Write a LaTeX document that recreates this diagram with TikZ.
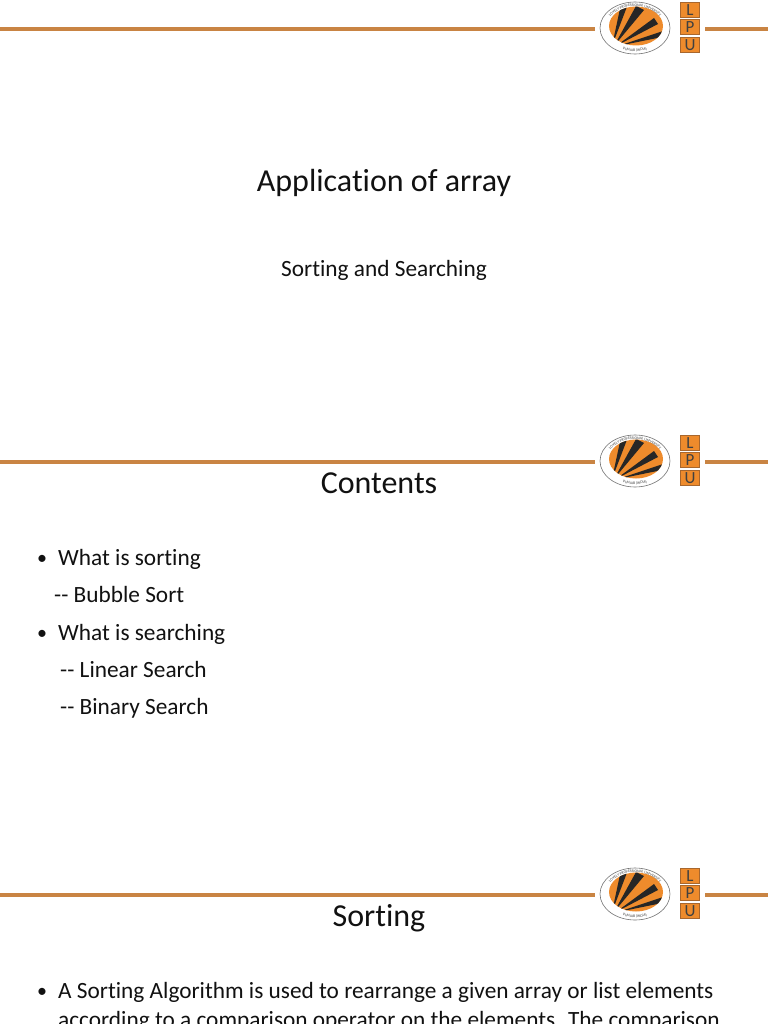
\documentclass[tikz,border=0pt]{standalone}
\usepackage{fontspec}
\setmainfont[Ligatures={NoCommon}]{Carlito}
\usetikzlibrary{decorations.text}
\definecolor{band}{HTML}{C98443}
\definecolor{lpuorange}{HTML}{EE8B2C}
\definecolor{lpuedge}{HTML}{A8672E}
\definecolor{inktext}{HTML}{111111}
\tikzset{
  bandline/.style={draw=band,line width=3.6pt},
  ray/.style={fill=black!85,draw=none},
  lpubox/.style={draw=lpuedge,line width=1pt,fill=lpuorange,minimum width=19pt,minimum height=15pt,inner sep=0pt,text=black!75,font=\fontsize{17}{17}\selectfont},
  title/.style={anchor=base,inner sep=0pt,text=inktext,font=\fontsize{32}{32}\selectfont},
  body/.style={anchor=base west,inner sep=0pt,text=inktext,font=\fontsize{23.3}{23.3}\selectfont},
  subtitle/.style={anchor=base,inner sep=0pt,text=inktext,font=\fontsize{23.3}{23.3}\selectfont},
  bulletmark/.style={anchor=base,inner sep=0pt,text=inktext,font=\fontsize{20}{20}\selectfont},
}
\newcommand{\lpuband}[2]{%
  \begin{scope}[shift={(0,#1)}]
    \coordinate (#2a) at (0,29); \coordinate (#2b) at (595,29);
    \coordinate (#2c) at (705,29); \coordinate (#2d) at (768,29);
    \draw[bandline] (#2a) -- (#2b);
    \draw[bandline] (#2c) -- (#2d);
    \draw[black!55,fill=white,line width=.6pt] (635,28) ellipse [x radius=35,y radius=26];
    \fill[lpuorange] (636,26) ellipse [x radius=27,y radius=19.5];
    \begin{scope}
      \clip (636,26) ellipse [x radius=27,y radius=19.5];
      \fill[ray] (612,46) -- (621,4) -- (628,4) -- cycle;
      \fill[ray] (614,46) -- (636,6) -- (644,10) -- cycle;
      \fill[ray] (616,46) -- (654,18) -- (658,24) -- cycle;
      \fill[ray] (618,46) -- (666,30) -- (667,36) -- cycle;
    \end{scope}
    \path[postaction={decorate,decoration={text along path,text align=center,
      text={|\fontsize{3.8}{4}\selectfont\color{black!75}|LOVELY PROFESSIONAL UNIVERSITY}}}]
      (603,34) .. controls (606,-3) and (664,-3) .. (667,34);
    \path[postaction={decorate,decoration={text along path,text align=center,
      text={|\fontsize{3.8}{4}\selectfont\color{black!75}|PUNJAB (INDIA)}}}]
      (615,46) .. controls (622,53) and (648,53) .. (655,46);
    \node[lpubox] (#2l) at (690,10) {L};
    \node[lpubox] (#2p) at (690,27) {P};
    \node[lpubox] (#2u) at (690,45) {U};
  \end{scope}}
\begin{document}
\begin{tikzpicture}[x=1pt,y=-1pt]
  \useasboundingbox (0,0) rectangle (768,1024);
  \fill[white] (0,0) rectangle (768,1024);
  \lpuband{0}{s}
  \lpuband{433}{t}
  \lpuband{866}{u}
  \node[title] (t1) at (384,191.5) {Application of array};
  \node[subtitle] (t2) at (384,276) {Sorting and Searching};
  \node[title] (t3) at (379,493) {Contents};
  \node[bulletmark] (b1) at (42,564) {•};
  \node[body] (c1) at (58,565) {What is sorting};
  \node[body] (c2) at (54,602) {{-}{-} Bubble Sort};
  \node[bulletmark] (b2) at (42,639) {•};
  \node[body] (c3) at (58,640) {What is searching};
  \node[body] (c4) at (60,677) {{-}{-} Linear Search};
  \node[body] (c5) at (60,714) {{-}{-} Binary Search};
  \node[title] (t4) at (379,926) {Sorting};
  \node[bulletmark] (b3) at (42,997) {•};
  \node[body] (d1) at (58,998) {A Sorting Algorithm is used to rearrange a given array or list elements};
  \node[body] (d2) at (58,1027) {according to a comparison operator on the elements. The comparison};
\end{tikzpicture}
\end{document}
